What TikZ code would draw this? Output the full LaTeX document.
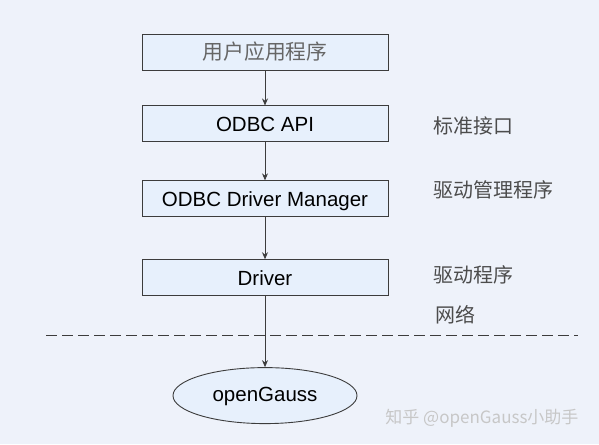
\documentclass[tikz,border=0pt]{standalone}
\usepackage{fontspec}
\setmainfont{Liberation Sans}
\newfontfamily\cjk{Noto Sans CJK SC}
\usetikzlibrary{positioning}
\usetikzlibrary{arrows.meta}
\usetikzlibrary{shapes.geometric}
\definecolor{bgblue}{HTML}{EEF2FA}
\definecolor{boxblue}{HTML}{E7F0FC}
\definecolor{linegray}{HTML}{3C3C3C}

\begin{document}
\begin{tikzpicture}[->, >={Stealth[length=7pt, width=6pt]}, draw=linegray, line width=0.9pt, font=\fontsize{20.5}{24}\selectfont]
    \tikzstyle{block}=[draw=linegray, rectangle, fill=boxblue, minimum width=246pt, minimum height=36pt, inner sep=0pt, text height=14.7pt, text depth=0pt]
    \tikzstyle{db}=[draw=linegray, ellipse, fill=boxblue, minimum width=184pt, minimum height=56pt, inner sep=0pt, text height=11pt, text depth=0pt]
    \tikzstyle{annot}=[anchor=west, inner sep=0pt, text=black!70, font=\cjk\fontsize{20}{24}\selectfont]

    \fill[bgblue] (0,0) rectangle (599pt,-444pt);
    \useasboundingbox (0,0) rectangle (599pt,-444pt);

    \node[block, text=black!60, font=\cjk\fontsize{20.8}{24}\selectfont] (app) at (265pt,-52pt) {用户应用程序};
    \node[block, below=35pt of app] (api) {ODBC API};
    \node[block, below=38pt of api] (dm) {ODBC Driver Manager};
    \node[block, below=42pt of dm] (drv) {Driver};
    \node[db, below=71pt of drv] (gauss) {openGauss};

    % network boundary
    \coordinate (netl) at (46pt,-335pt);
    \coordinate (netr) at (578pt,-335pt);
    \draw[-, dash pattern=on 10.7pt off 5.3pt] (netl) -- (netr);

    \path (app) edge (api);
    \path (api) edge (dm);
    \path (dm) edge (drv);
    \path (drv) edge (gauss);

    \node[annot] (iface) at (433pt,-126pt) {标准接口};
    \node[annot] (dmlbl) at (433pt,-190pt) {驱动管理程序};
    \node[annot] (drvlbl) at (433pt,-275pt) {驱动程序};
    \node[annot] (net) at (435pt,-315pt) {网络};
    \node[annot, text=black!22, font=\cjk\fontsize{17}{20}\selectfont] (mark) at (385pt,-418pt) {知乎 @openGauss小助手};
\end{tikzpicture}
\end{document}
